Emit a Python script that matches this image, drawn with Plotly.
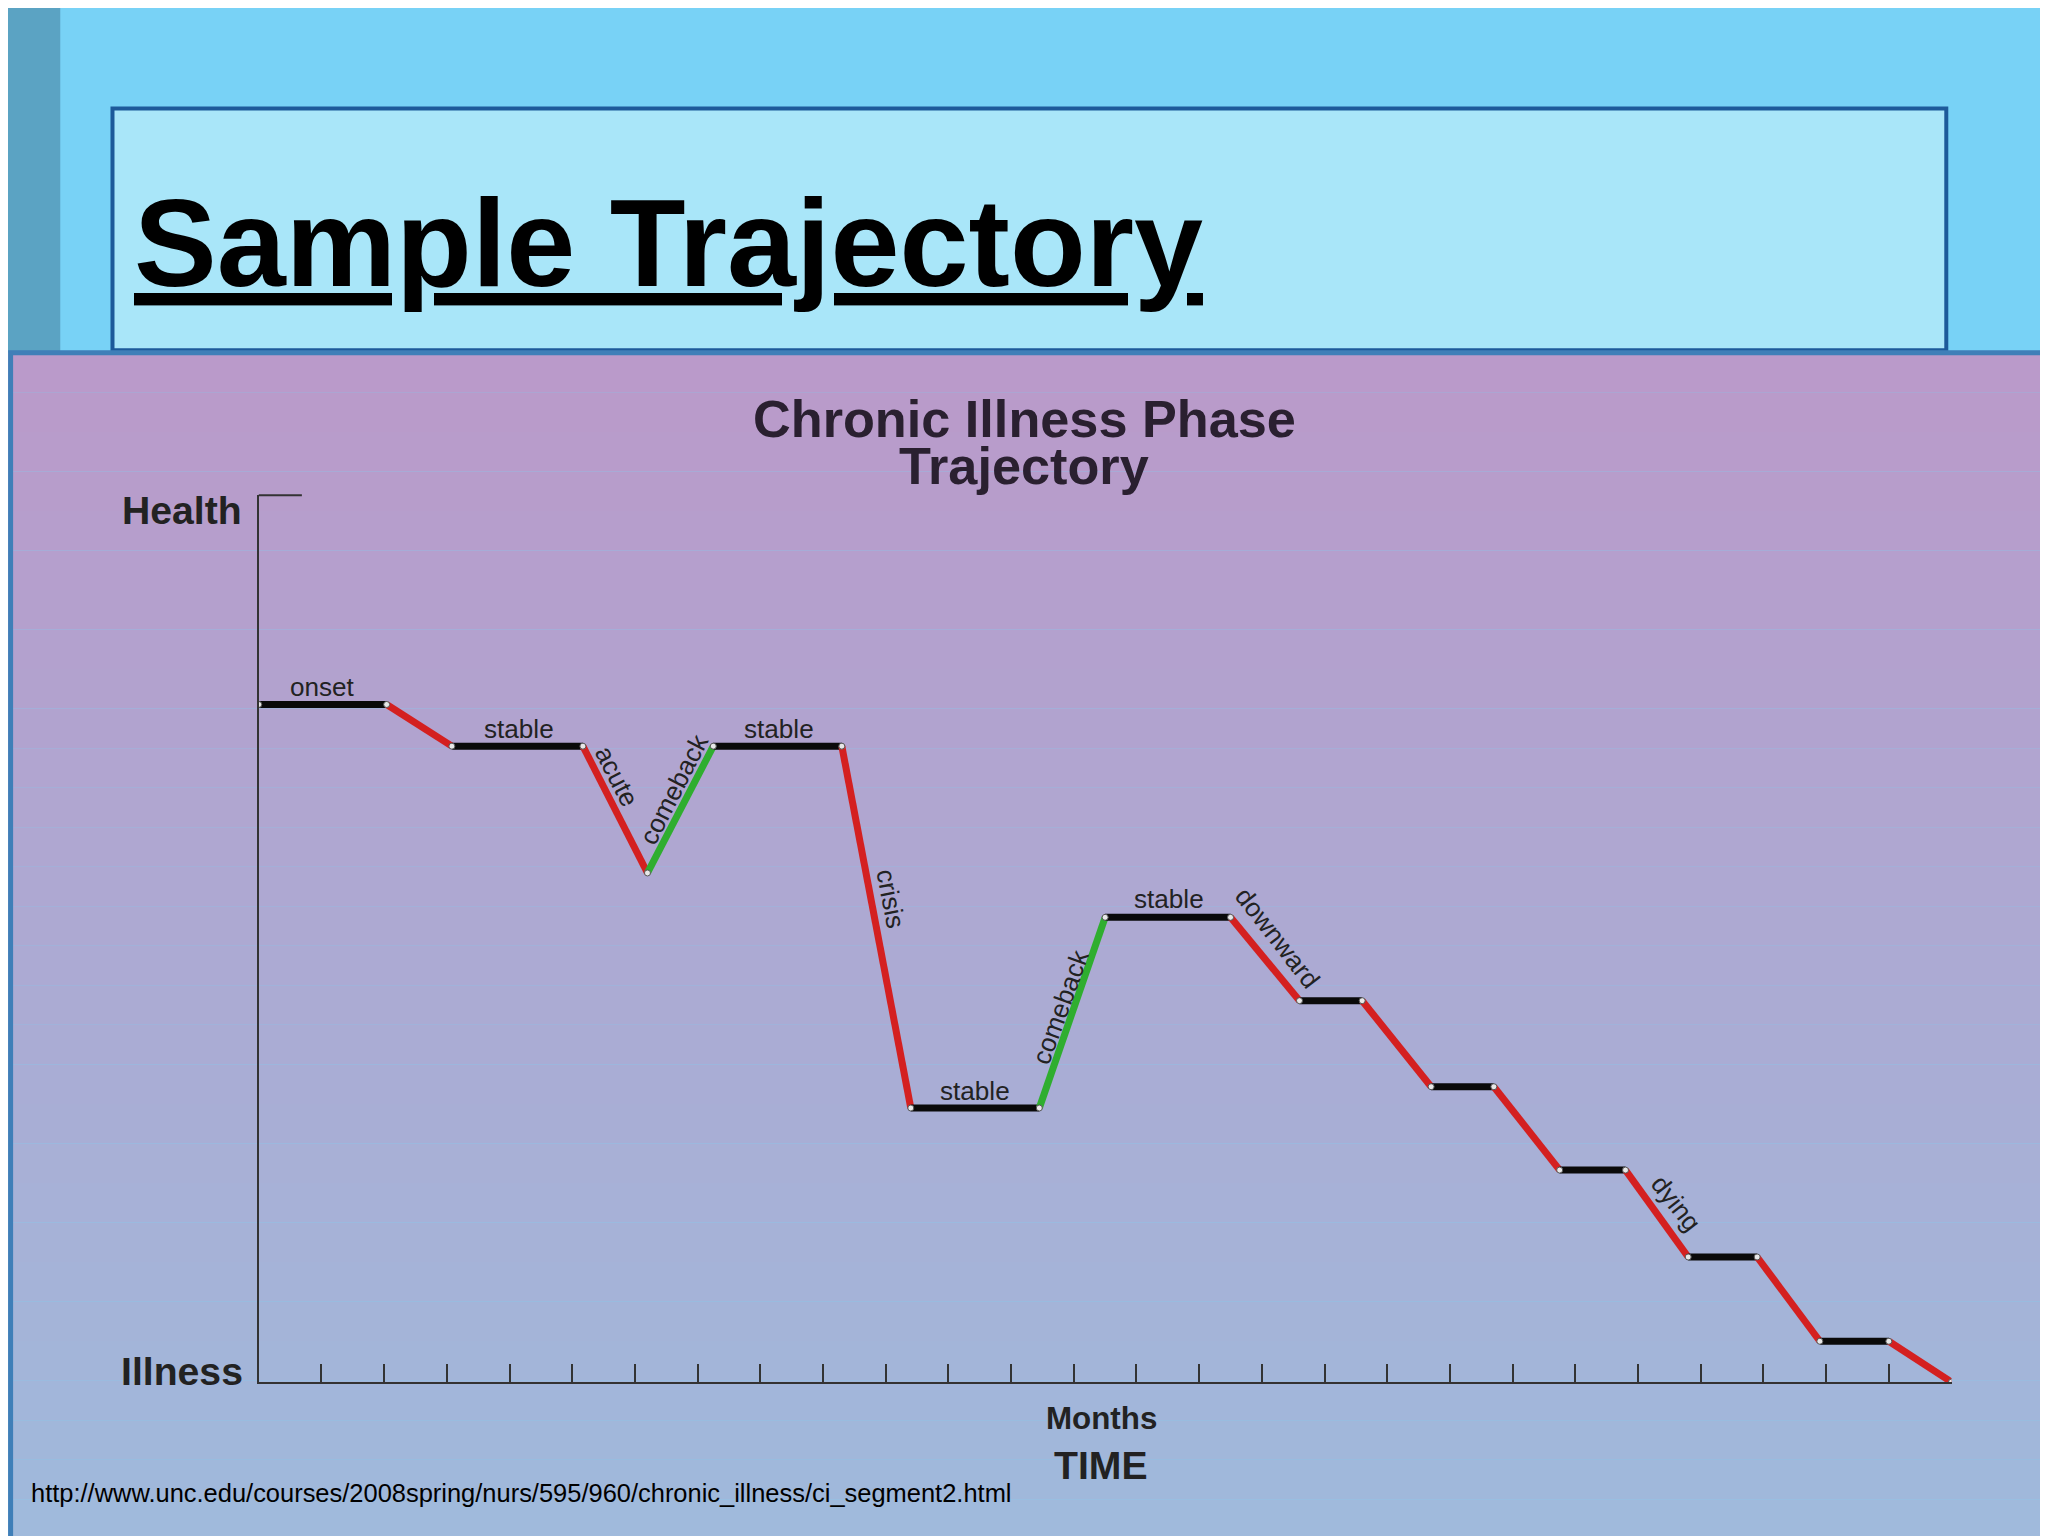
import plotly.graph_objects as go

W0, H0 = 1568, 1176
S = 2048 / 1568

# Trajectory data (x in months/ticks, y health level 0=Illness,100=Health)
months = [0, 2.04, 3.08, 5.17, 6.2, 7.25, 9.3, 10.4, 12.45, 13.5, 15.5, 16.6, 17.6, 18.7, 19.7, 20.75, 21.8, 22.8, 23.9, 24.9, 26.0, 27.0]
health = [76.4, 76.4, 71.7, 71.7, 57.4, 71.7, 71.7, 30.9, 30.9, 52.4, 52.4, 43.0, 43.0, 33.3, 33.3, 23.9, 23.9, 14.1, 14.1, 4.6, 4.6, 0]
seg_colors = ["black", "red", "black", "red", "green", "black", "red", "black", "green", "black",
              "red", "black", "red", "black", "red", "black", "red", "black", "red", "black", "red"]
tick_vals = list(range(0, 28))

COL = {"black": "#0a0a0a", "red": "#d42020", "green": "#2fae2f"}

def px(x): return x / W0
def py(y): return 1 - y / H0

fig = go.Figure()
for i, c in enumerate(seg_colors):
    fig.add_trace(go.Scatter(x=months[i:i+2], y=health[i:i+2], mode="lines",
                             line=dict(color=COL[c], width=7), showlegend=False, hoverinfo="skip"))
fig.add_trace(go.Scatter(x=months, y=health, mode="markers",
                         marker=dict(size=6, color="#e8e8e8", line=dict(color="#555", width=1)),
                         showlegend=False, hoverinfo="skip"))

shapes = []
shapes.append(dict(type="rect", xref="paper", yref="paper", x0=0, x1=1, y0=py(265), y1=1,
                   fillcolor="#78d2f6", line_width=0, layer="below"))
shapes.append(dict(type="rect", xref="paper", yref="paper", x0=0, x1=px(40), y0=py(265), y1=1,
                   fillcolor="#4f8fae", line_width=0, layer="below", opacity=0.7))
# title box
shapes.append(dict(type="rect", xref="paper", yref="paper", x0=px(80), x1=px(1484), y0=py(262), y1=py(77),
                   fillcolor="#a9e6f9", line=dict(color="#1d5a9a", width=4), layer="below"))
# purple panel gradient
n = 30
top = (186, 154, 202); bot = (160, 186, 220)
for k in range(n):
    t = k / (n - 1)
    c = tuple(int(top[j] + (bot[j] - top[j]) * t) for j in range(3))
    y0 = 264 + (1172 - 264) * k / n
    y1 = 264 + (1172 - 264) * (k + 1) / n
    shapes.append(dict(type="rect", xref="paper", yref="paper", x0=0, x1=1, y0=py(y1), y1=py(y0),
                       fillcolor="rgb(%d,%d,%d)" % c, line_width=0, layer="below"))
shapes.append(dict(type="rect", xref="paper", yref="paper", x0=px(2), x1=px(1564), y0=py(1172), y1=py(264),
                   fillcolor="rgba(0,0,0,0)", line=dict(color="#3f7fb8", width=5), layer="below"))
shapes.append(dict(type="line", xref="paper", yref="paper", x0=px(192), x1=px(225), y0=py(373), y1=py(373),
                   line=dict(color="#333", width=2)))

F = "Liberation Sans, Arial, sans-serif"
ann = []
def A(text, x, y, size, bold=True, color="#222", angle=0, xanchor="center"):
    d = dict(x=px(x), y=py(y), xref="paper", yref="paper")
    d.update(text=("<b>%s</b>" % text) if bold else text, showarrow=False, textangle=angle,
             font=dict(family=F, size=size * S, color=color), xanchor=xanchor, yanchor="middle")
    ann.append(d)

A("<u>Sample Trajectory</u>", 95, 180, 95, color="#000", xanchor="left")
A("Chronic Illness Phase", 778, 315, 40, color="#2a2030")
A("Trajectory", 778, 351, 40, color="#2a2030")
A("Health", 133, 385, 30)
A("Illness", 133, 1044, 30)
A("Months", 837, 1080, 24)
A("TIME", 837, 1116, 30)
A("http://www.unc.edu/courses/2008spring/nurs/595/960/chronic_illness/ci_segment2.html", 16, 1137, 19.5,
  bold=False, color="#000", xanchor="left")
A("onset", 241, 520, 20, bold=False)
A("stable", 391, 552, 20, bold=False)
A("stable", 590, 552, 20, bold=False)
A("stable", 740, 829, 20, bold=False)
A("stable", 889, 682, 20, bold=False)
A("acute", 466, 588, 20, bold=False, angle=63)
A("comeback", 510, 598, 20, bold=False, angle=-63)
A("crisis", 676, 682, 20, bold=False, angle=79)
A("comeback", 806, 765, 20, bold=False, angle=-70)
A("downward", 972, 712, 20, bold=False, angle=52)
A("dying", 1277, 915, 20, bold=False, angle=52)

fig.update_layout(
    width=2048, height=1536, margin=dict(l=0, r=0, t=0, b=0),
    paper_bgcolor="#78d2f6", plot_bgcolor="rgba(0,0,0,0)",
    shapes=shapes, annotations=ann,
    xaxis=dict(domain=[px(192), px(1488)], range=[0, 27], tickvals=tick_vals, showticklabels=False,
               ticks="inside", ticklen=18, tickwidth=2, tickcolor="#333", showgrid=False, zeroline=False,
               showline=True, linecolor="#333", linewidth=2),
    yaxis=dict(domain=[py(1052), py(373)], range=[0, 100], showticklabels=False, ticks="",
               showgrid=False, zeroline=False, showline=True, linecolor="#333", linewidth=2),
)
fig.write_html("out.html")
